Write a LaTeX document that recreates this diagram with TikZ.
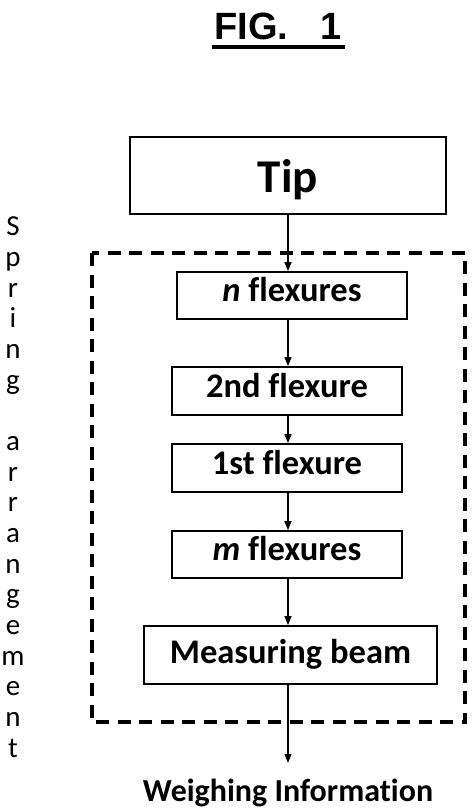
\documentclass[tikz,border=0pt]{standalone}
\usepackage{fontspec}
\setmainfont[Ligatures=NoCommon]{Carlito}
\newfontfamily\figfont{Liberation Sans}
\usetikzlibrary{arrows.meta}

\begin{document}
\begin{tikzpicture}[
    x=1pt, y=-1pt,
    blocco/.style={draw, line width=1.8pt, inner sep=0pt, text height=22pt, text depth=10pt, font=\fontsize{34.5}{38}\selectfont\bfseries},
    freccia/.style={->, >={Triangle[length=9pt, width=7pt]}, line width=1.3pt},
    gabbia/.style={line width=3.2pt, dash pattern=on 13pt off 8.5pt},
    lettere/.style={font=\fontsize{29}{30.65}\selectfont, align=center, inner sep=0pt},
    titolo/.style={font=\figfont\fontsize{38}{40}\selectfont\bfseries, inner sep=0pt},
    uscita/.style={font=\fontsize{32}{36}\selectfont\bfseries, inner sep=0pt}
]
    \useasboundingbox (0,0) rectangle (474,812);

    % 1. Titolo sottolineato
    \node[titolo, anchor=base] (fig) at (278,39) {FIG.\hspace{32pt}1};
    \draw[line width=3.5pt] ([xshift=-2pt, yshift=-8pt]fig.base west) -- ([xshift=3pt, yshift=-8pt]fig.base east);

    % 2. Scritta verticale a sinistra
    \node[lettere, anchor=base] (molla) at (13,757) {S\\p\\r\\i\\n\\g\\\mbox{}\\a\\r\\r\\a\\n\\g\\e\\m\\e\\n\\t};

    % 3. Riquadro tratteggiato (gruppo di molle)
    \draw[gabbia] (92,253) rectangle (465,722);

    % 4. Blocchi
    \node[blocco, minimum width=316pt, minimum height=77pt, text height=38pt, text depth=5pt, font=\fontsize{47}{50}\selectfont\bfseries] (tip) at (288,175.5) {Tip};
    \node[blocco, minimum width=230pt, minimum height=47pt] (nflex) at (292,295.5) {\textit{n} flexures};
    \node[blocco, minimum width=230pt, minimum height=48pt] (second) at (287,391) {2nd flexure};
    \node[blocco, minimum width=230pt, minimum height=48pt] (first) at (287,468) {1st flexure};
    \node[blocco, minimum width=230pt, minimum height=47pt] (mflex) at (287,554.5) {\textit{m} flexures};
    \node[blocco, minimum width=293pt, minimum height=58pt, text height=26pt, text depth=9pt] (beam) at (290.5,655) {Measuring beam};

    % 5. Uscita
    \coordinate (fine) at (288,763);
    \node[uscita, anchor=base] (peso) at (288,801) {Weighing Information};

    % 6. Frecce
    \draw[freccia] (tip.south) -- (tip.south |- nflex.north);
    \draw[freccia] (tip.south |- nflex.south) -- (tip.south |- second.north);
    \draw[freccia] (tip.south |- second.south) -- (tip.south |- first.north);
    \draw[freccia] (tip.south |- first.south) -- (tip.south |- mflex.north);
    \draw[freccia] (tip.south |- mflex.south) -- (tip.south |- beam.north);
    \draw[freccia] (tip.south |- beam.south) -- (fine);

\end{tikzpicture}
\end{document}
